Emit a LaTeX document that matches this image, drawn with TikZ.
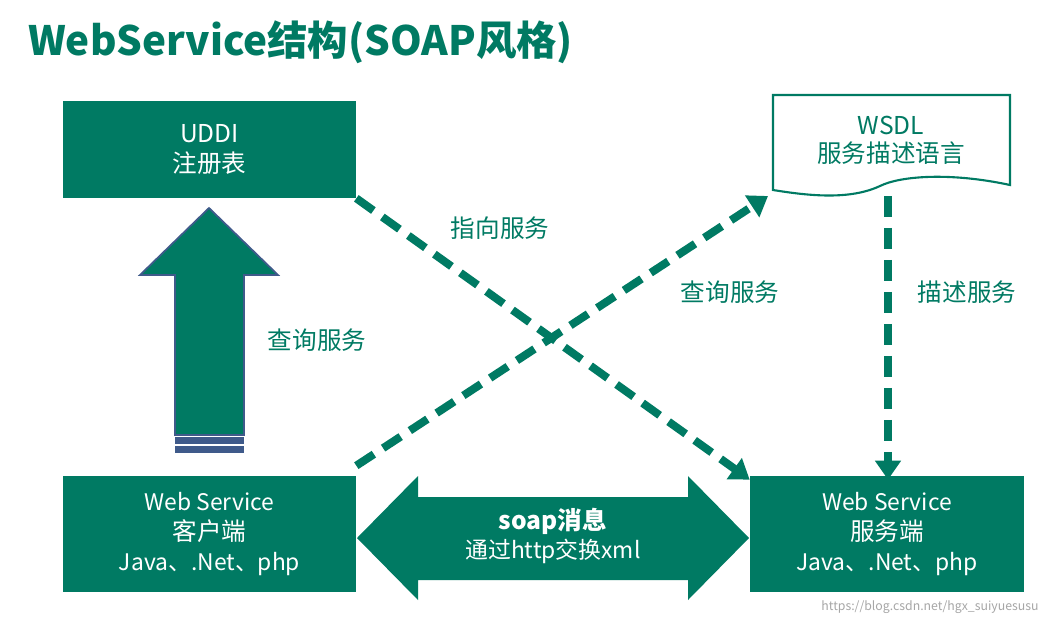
\documentclass[tikz,border=0pt]{standalone}
\usepackage{fontspec}
\setmainfont{Noto Sans CJK SC}
\usetikzlibrary{arrows.meta}
\definecolor{teal}{RGB}{0,122,99}
\definecolor{edge}{RGB}{63,90,138}
\tikzset{
  box/.style={fill=teal,text=white,align=center,font=\fontsize{14}{17}\selectfont,inner sep=0pt},
  lbl/.style={text=teal,font=\fontsize{14}{16}\selectfont},
  link/.style={teal,line width=0.16cm,dash pattern=on 0.42cm off 0.22cm,-{Triangle[length=0.38cm,width=0.5cm]}}
}
\begin{document}
\begin{tikzpicture}[x=0.02cm,y=-0.02cm]
\useasboundingbox (0,0) rectangle (1048,626);
\node[teal,anchor=west,font=\fontsize{23}{26}\bfseries\selectfont] (title) at (22,42) {WebService结构(SOAP风格)};
% boxes
\node[box,minimum width=5.86cm,minimum height=1.94cm] (uddi) at (209.5,149.5) {UDDI\\注册表};
\node[box,minimum width=5.86cm,minimum height=2.32cm,font=\fontsize{13}{17}\selectfont] (client) at (209.5,534) {Web Service\\\fontsize{14}{17}\selectfont 客户端\\Java、.Net、php};
\node[box,minimum width=5.48cm,minimum height=2.32cm,font=\fontsize{13}{17}\selectfont] (server) at (887,534) {Web Service\\\fontsize{14}{17}\selectfont 服务端\\Java、.Net、php};
% wsdl document
\draw[teal,line width=1.2pt,fill=white] (773,95) -- (1010,95) -- (1010,185)
  .. controls (950,172) and (900,176) .. (880,186) .. controls (850,200) and (810,196) .. (773,190) -- cycle;
\node[lbl,align=center,text=teal] (wsdl) at (891,140) {WSDL\\服务描述语言};
\coordinate (wsdlin) at (768,196);
\coordinate (wsdlout) at (888,196);
% up arrow
\draw[edge,line width=1pt,fill=teal] (175,435) -- (175,275) -- (140,275) -- (209,208) -- (278,275) -- (244,275) -- (244,435) -- cycle;
\foreach \y in {437,446} \fill[edge] (175,\y) rectangle (244,\y+7);
% double arrow
\fill[teal] (357,538) -- (418,476) -- (418,497) -- (688,497) -- (688,476) -- (749,538)
  -- (688,600) -- (688,580) -- (418,580) -- (418,600) -- cycle;
\node[text=white,align=center,font=\fontsize{13}{17}\selectfont] (soap) at (553,536) {\fontsize{14}{17}\bfseries\selectfont soap消息\\通过http交换xml};
% links
\draw[link] (uddi.south east) -- ([yshift=-0.08cm]server.north west);
\draw[link] ([yshift=0.2cm]client.north east) -- (wsdlin);
\draw[link] (wsdlout) -- ([yshift=-0.08cm]server.north -| wsdlout);
% labels
\node[lbl] (l1) at (500,228) {指向服务};
\node[lbl] (l2) at (730,292) {查询服务};
\node[lbl] (l3) at (967,292) {描述服务};
\node[lbl] (l4) at (317,340) {查询服务};
\node[gray!70,font=\fontsize{7}{8}\selectfont] (mark) at (930,607) {https://blog.csdn.net/hgx\_suiyuesusu};
\end{tikzpicture}
\end{document}
